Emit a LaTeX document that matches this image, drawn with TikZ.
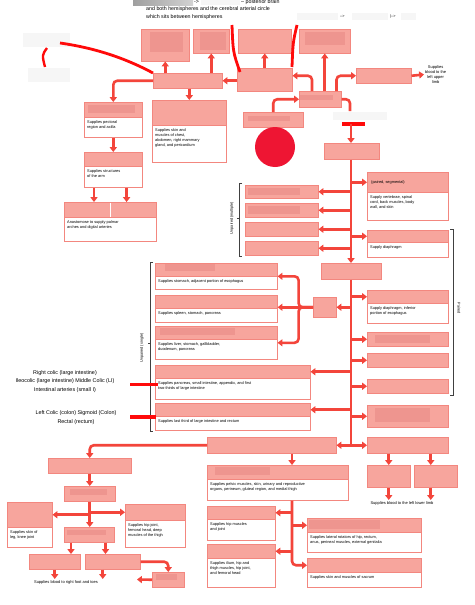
\documentclass[tikz,border=0pt]{standalone}
\usepackage{fontspec}
\setmainfont{Liberation Sans}
\usetikzlibrary{arrows.meta}

\definecolor{boxred}{HTML}{F7A59D}
\definecolor{boxdark}{HTML}{EE958F}
\definecolor{boxline}{HTML}{F3877F}
\definecolor{arrowred}{HTML}{F3453B}
\definecolor{heartred}{HTML}{EE1533}
\definecolor{penred}{HTML}{FF0A0A}
\definecolor{blankgray}{HTML}{F6F6F6}

\tikzset{
  solidbox/.style={draw=boxline, fill=boxred, line width=0.5pt, inner sep=0pt, anchor=north west},
  bodybox/.style={draw=boxline, fill=white, line width=0.6pt, inner sep=0pt, anchor=north west},
  headbox/.style={draw=boxline, fill=boxred, line width=0.5pt, inner sep=0pt, anchor=north west},
  boxtext/.style={font=\fontsize{3.9}{5}\selectfont, align=left, inner sep=1pt, anchor=north west},
  notetext/.style={font=\fontsize{4}{5}\selectfont, align=center, inner sep=1pt},
  sidetext/.style={font=\fontsize{5.4}{8.5}\selectfont, align=center, inner sep=0pt},
  toptext/.style={font=\fontsize{5.3}{8}\selectfont, align=left, inner sep=0pt},
  groupname/.style={font=\fontsize{3.8}{4.5}\selectfont, inner sep=0pt},
  arr/.style={draw=arrowred, line width=2.6pt, -{Triangle[width=7pt,length=4.8pt]}, rounded corners=4pt},
  trunk/.style={draw=arrowred, line width=2.6pt, rounded corners=4pt},
  bracket/.style={draw=black!75, line width=0.5pt},
  blank/.style={fill=blankgray},
  blur/.style={fill=boxdark},
  redpen/.style={draw=penred, line width=2.8pt},
}

% plain filled box: name, left, top, width, height
\newcommand{\plainbox}[5]{%
  \node[solidbox, minimum width=#4pt, minimum height=#5pt] (#1) at (#2,#3) {};}
% box with header and text: name, left, top, width, height, header height, text
\newcommand{\infobox}[7]{%
  \node[bodybox, minimum width=#4pt, minimum height=#5pt] (#1) at (#2,#3) {};
  \node[headbox, minimum width=#4pt, minimum height=#6pt] (#1-h) at (#1.north west) {};
  \node[boxtext] at ([xshift=2pt,yshift=-1.5pt]#1-h.south west) {#7};}

\begin{document}
\begin{tikzpicture}[x=1pt, y=-1pt]
% page of the reference
\useasboundingbox (0,0) rectangle (474,605);
\fill[white] (0,0) rectangle (474,605);

% blanked labels and notes at the top
\shade[left color=gray!75, right color=gray!35] (133,-1) rectangle (193,5);
\node[toptext, anchor=base west] (topA) at (194,4) {->};
\fill[blank] (201,-1) rectangle (240,5);
\node[toptext, anchor=base west] (topB) at (241,4) {–  posterior brain};
\node[toptext, anchor=north west] (circle note) at (146,6.5)
  {and both hemispheres and the cerebral arterial circle\\which sits between hemispheres};
\fill[blank] (297,13) rectangle (338,20);
\node[groupname, anchor=west] (topC) at (340,16.5) {-->};
\fill[blank] (352,13) rectangle (388,20);
\node[groupname, anchor=west] (topD) at (390,16.5) {|-->};
\fill[blank] (401,13) rectangle (416,20);
\fill[blank] (23,33) rectangle (70,47);
\fill[blank] (28,68) rectangle (70,82);

% arch branches
\plainbox{A1}{141}{29}{48}{32}
\plainbox{A2}{193}{29}{36}{24}
\plainbox{A3}{238}{29}{53}{24}
\plainbox{A4}{299}{29}{51}{24}
\plainbox{B}{153}{73}{69}{15}
\plainbox{C}{237}{68}{55}{23}
\plainbox{D}{299}{91}{42}{16}
\plainbox{E}{356}{68}{55}{15}
\plainbox{F}{243}{112}{60}{15}
\plainbox{G}{324}{143}{55}{16}
\fill[blur] (150,32) rectangle (183,52);
\fill[blur] (200,32) rectangle (226,50);
\fill[blur] (305,32) rectangle (345,45);
\fill[blur] (300,95) rectangle (333,100);
\fill[blur] (248,116) rectangle (290,121);
\fill[blank] (333,112) rectangle (387,120);
\node[heartred, fill=heartred, circle, minimum size=40pt, inner sep=0pt] (heart) at (275,147) {};
\node[notetext, anchor=west] (upperlimb) at (424,74.5) {Supplies\\blood to the\\left upper\\limb};

% right arm
\infobox{H1}{84}{102}{58}{35}{15}{Supplies pectoral\\region and axilla}
\infobox{H2}{152}{100}{74}{62}{25}{Supplies skin and\\muscles of chest,\\abdomen, right mammary\\gland, and pericardium}
\infobox{H3}{84}{152}{58}{35}{14}{Supplies structures\\of the arm}
\infobox{H4}{64}{202}{92}{39}{15}{Anastomose to supply palmar\\arches and digital arteries}
\fill[blur] (88,105) rectangle (135,113);
\draw[white, line width=1pt] (110,202.5) -- (110,216.6);

% thoracic part
\plainbox{L1}{245}{185}{73}{13}
\plainbox{L2}{245}{203}{73}{14}
\plainbox{L3}{245}{222}{73}{14}
\plainbox{L4}{245}{241}{73}{14}
\fill[blur] (248,188) rectangle (300,195);
\fill[blur] (248,206) rectangle (300,214);
\infobox{R1}{367}{172}{81}{48}{20}{Supply vertebrae, spinal\\cord, back muscles, body\\wall, and skin}
\node[boxtext, anchor=west] at ([xshift=3pt]R1-h.west) {(paired, segmental)};
\infobox{R2}{367}{230}{81}{27}{12}{Supply diaphragm}

% abdominal part
\plainbox{G2}{321}{263}{60}{16}
\plainbox{S}{313}{297}{23}{20}
\infobox{U1}{155}{263}{122}{26}{13}{Supplies stomach, adjacent portion of esophagus}
\infobox{U2}{155}{295}{122}{27}{13}{Supplies spleen, stomach, pancreas}
\infobox{U3}{155}{326}{122}{33}{13}{Supplies liver, stomach, gallbladder,\\duodenum, pancreas}
\infobox{U4}{155}{365}{155}{34}{13}{Supplies pancreas, small intestine, appendix, and first\\two-thirds of large intestine}
\infobox{U5}{155}{403}{155}{27}{13}{Supplies last third of large intestine and rectum}
\fill[blur] (165,264) rectangle (215,271);
\fill[blur] (160,328) rectangle (235,335);
\infobox{R3}{367}{290}{81}{33}{13}{Supply diaphragm, inferior\\portion of esophagus}
\plainbox{R4}{367}{332}{81}{14}
\plainbox{R5}{367}{353}{81}{14}
\plainbox{R6}{367}{379}{81}{14}
\plainbox{R7}{367}{405}{81}{22}
\plainbox{R8}{367}{437}{81}{16}
\plainbox{CIR}{207}{437}{129}{16}
\fill[blur] (375,335) rectangle (430,343);
\fill[blur] (375,408) rectangle (430,422);

% group brackets
\draw[bracket] (242,183) -- (239,183) -- (239,256) -- (242,256);
\draw[bracket] (239,218) -- (237,218);
\node[groupname, rotate=90] (multiple) at (232,218) {Unpaired (multiple)};
\draw[bracket] (153,262) -- (150,262) -- (150,431) -- (153,431);
\draw[bracket] (150,343) -- (148,343);
\node[groupname, rotate=90] (single) at (142,348) {Unpaired (single)};
\draw[bracket] (450,229) -- (453,229) -- (453,395) -- (450,395);
\node[groupname, rotate=-90] (paired) at (459,308) {Paired};

% colic notes
\node[sidetext] (colic1) at (65,381.5) {Right colic (large intestine)\\Ileocolic (large intestine) Middle Colic (LI)\\Intestinal arteries (small I)};
\node[sidetext] (colic2) at (76,417.5) {Left Colic (colon) Sigmoid (Colon)\\Rectal (rectum)};
\draw[redpen, line width=3.5pt] ([xshift=-25pt,yshift=-2pt]U4.west) -- ([xshift=3pt,yshift=-2pt]U4.west);
\draw[redpen, line width=3.5pt] ([xshift=-25pt]U5.west) -- ([xshift=1pt]U5.west);

% pelvis and legs
\infobox{II}{207}{465}{141}{35}{14}{Supplies pelvic muscles, skin, urinary and reproductive\\organs, perineum, gluteal region, and medial thigh}
\infobox{P1}{207}{506}{68}{34}{13}{Supplies hip muscles\\and joint}
\infobox{P2}{207}{544}{68}{43}{14}{Supplies ilium, hip and\\thigh muscles, hip joint,\\and femoral head}
\infobox{P3}{307}{518}{114}{34}{14}{Supplies lateral rotators of hip, rectum,\\anus, perineal muscles, external genitalia}
\infobox{P4}{307}{558}{114}{29}{14}{Supplies skin and muscles of sacrum}
\fill[blur] (215,467) rectangle (270,475);
\fill[blur] (309,520) rectangle (380,529);
\plainbox{LL1}{367}{465}{43}{22}
\plainbox{LL2}{414}{465}{43}{22}
\node[notetext] (lowerlimb) at (402,503) {Supplies blood to the left lower limb};
\plainbox{I1}{48}{458}{83}{15}
\plainbox{I2}{64}{486}{51}{15}
\infobox{I3}{7}{502}{45}{45}{25}{Supplies skin of\\leg, knee joint}
\infobox{I4}{125}{504}{60}{43}{16}{Supplies hip joint,\\femoral head, deep\\muscles of the thigh}
\plainbox{I5}{64}{527}{50}{15}
\plainbox{I6}{29}{554}{51}{15}
\plainbox{I7}{85}{554}{55}{15}
\plainbox{I8}{152}{572}{32}{15}
\fill[blur] (70,489) rectangle (107,495);
\fill[blur] (67,530) rectangle (106,535);
\fill[blur] (156,574) rectangle (177,580);
\node[notetext] (rightfoot) at (66,582) {Supplies blood to right foot and toes};

% connectors of the arch
\coordinate (aorta) at (351,0);
\coordinate (ptrunk) at (292,0);
\coordinate (dend) at (350,111);
\coordinate (cut) at (351,124);
\coordinate (i8end) at (137,579.5);
\draw[arr] (B.north -| A1.south) -- (A1.south);
\draw[arr] (B.north -| A2.south) -- (A2.south);
\draw[arr] (C.west |- B.east) -- (B.east);
\draw[arr] (B.west) -| (H1.north);
\draw[arr] (B.south -| H2.north) -- (H2.north);
\draw[arr] (C.north -| A3.south) -- (A3.south);
\draw[arr] ([xshift=13pt]D.north west) |- ([yshift=4pt]C.east);
\draw[arr] (D.north -| A4.south) -- (A4.south);
\draw[arr] ([xshift=-5pt]D.north east) |- (E.west);
\draw[arr] (E.east) -- (upperlimb.west);
\draw[arr] (F.north) |- (D.west);
\draw[trunk] (D.east) -| (dend);
\draw[redpen, line width=4pt] ([xshift=-9pt]cut) -- ([xshift=14pt]cut);
\draw[arr] (cut) -- (cut |- G.north);

% right arm
\draw[arr] (H1.south) -- (H3.north);
\draw[arr] ([xshift=10pt]H3.south west) -- ([xshift=10pt]H3.south west |- H4.north);
\draw[arr] ([xshift=-16pt]H3.south east) -- ([xshift=-16pt]H3.south east |- H4.north);

% thoracic aorta
\draw[arr] (aorta |- G.south) -- (aorta |- G2.north);
\draw[arr] (aorta |- R1-h.west) -- (R1-h.west);
\draw[arr] (aorta |- R2-h.west) -- (R2-h.west);
\foreach \n in {L1,L2,L3,L4}
  \draw[arr] (aorta |- \n.east) -- (\n.east);

% abdominal aorta
\coordinate (bif) at (aorta |- CIR.east);
\draw[trunk] (aorta |- G2.south) -- (bif);
\draw[arr] (aorta |- S.east) -- (S.east);
\foreach \n in {R3-h,R4,R5,R6,R7}
  \draw[arr] (aorta |- \n.west) -- (\n.west);
\foreach \n in {U4-h,U5-h}
  \draw[arr] (aorta |- \n.east) -- (\n.east);
\draw[arr] (bif) -- (R8.west);
\draw[arr] (bif) -- (CIR.east);
\draw[arr] (S.west) -- (S.west -| U2.east);
\draw[arr] (S.west) -| ([xshift=21pt]U1.east) -- (U1.east);
\draw[arr] (S.west) -| ([xshift=21pt]U3.east) -- (U3.east);

% left leg
\draw[arr] (R8.south -| LL1.north) -- (LL1.north);
\draw[arr] ([xshift=-5pt]LL2.north |- R8.south) -- ([xshift=-5pt]LL2.north);
\draw[arr] (LL1.south) -- (LL1.south |- lowerlimb.north);
\draw[arr] ([xshift=-5pt]LL2.south) -- ([xshift=-5pt]LL2.south |- lowerlimb.north);

% pelvis
\draw[arr] (ptrunk |- CIR.south) -- (ptrunk |- II.north);
\draw[arr] (ptrunk |- II.south) |- (P4-h.west);
\draw[arr] (ptrunk |- P3-h.west) -- (P3-h.west);
\foreach \n in {P1-h,P2-h}
  \draw[arr] (ptrunk |- \n.east) -- (\n.east);

% right leg
\draw[arr] (CIR.west) -| (I1.north);
\draw[arr] (I1.south) -- (I1.south |- I2.north);
\draw[arr] (I2.south) -- (I2.south |- I5.north);
\draw[arr] (I2.south |- I3-h.east) -- (I3-h.east);
\draw[arr] (I2.south |- I4-h.west) -- (I4-h.west);
\draw[arr] ([xshift=7pt]I5.south west) -- ([xshift=7pt]I5.south west |- I6.north);
\draw[arr] ([xshift=-9pt]I5.south east) -- ([xshift=-9pt]I5.south east |- I7.north);
\draw[arr] (I6.south) -- (I6.south |- rightfoot.north);
\draw[arr] ([xshift=-10pt]I7.south) -- ([xshift=-10pt]I7.south |- rightfoot.north);
\draw[arr] (I7.east) -| (I8.north);
\draw[arr] (I8.west) -- (i8end);

% pen marks
\draw[redpen] (60,43) .. controls (95,48) and (125,58) .. (153,73);
\draw[redpen, line width=2.4pt] (47,48) .. controls (42,55) .. (45,67);
\draw[redpen] (232,25) .. controls (233,52) .. (240,72);
\draw[redpen] (297,25) .. controls (293,42) .. (292,67);

\end{tikzpicture}
\end{document}
